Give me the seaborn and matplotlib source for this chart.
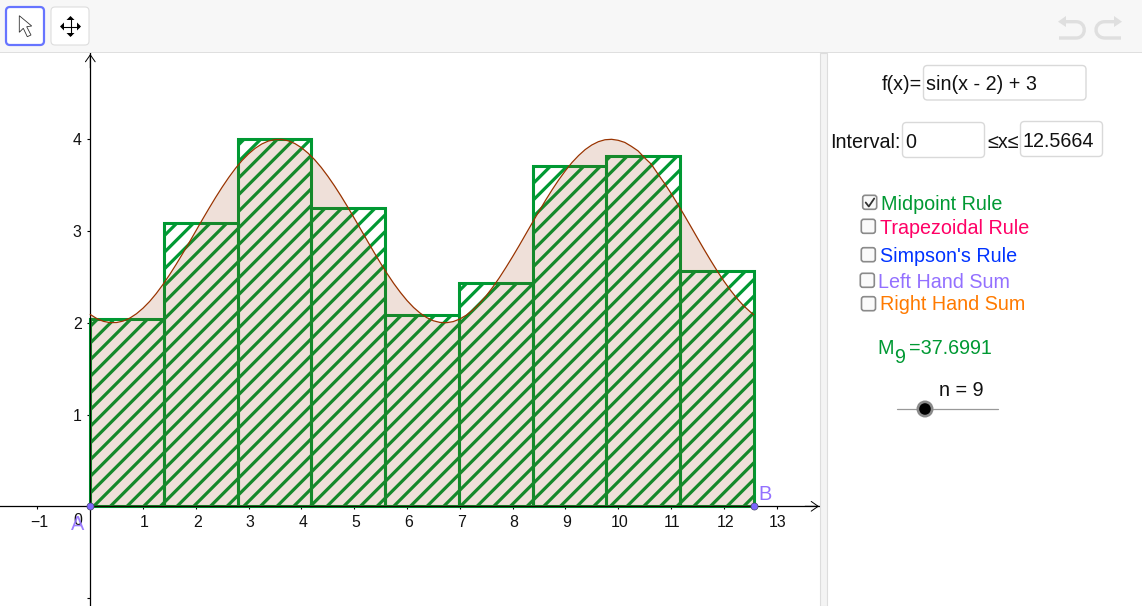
#!/usr/bin/env python3
import matplotlib
matplotlib.use("Agg")
import matplotlib.pyplot as plt
import matplotlib.transforms as mtransforms
import seaborn as sns
from matplotlib.patches import FancyBboxPatch, Rectangle, Polygon, Circle, PathPatch
from matplotlib.path import Path

# Midpoint rectangles
bar_mids = [0.698, 2.094, 3.491, 4.887, 6.283, 7.679, 9.076, 10.472, 11.868]
bar_heights = [2.04, 3.09, 4.00, 3.25, 2.09, 2.43, 3.71, 3.82, 2.57]

# Curve
curve_x = [0, 0.125, 0.25, 0.375, 0.5, 0.625, 0.75, 0.875, 1, 1.125, 1.25, 1.375, 1.5, 1.625, 1.75, 1.875,
           2, 2.125, 2.25, 2.375, 2.5, 2.625, 2.75, 2.875, 3, 3.125, 3.25, 3.375, 3.5, 3.625, 3.75, 3.875,
           4, 4.125, 4.25, 4.375, 4.5, 4.625, 4.75, 4.875, 5, 5.125, 5.25, 5.375, 5.5, 5.625, 5.75, 5.875,
           6, 6.125, 6.25, 6.375, 6.5, 6.625, 6.75, 6.875, 7, 7.125, 7.25, 7.375, 7.5, 7.625, 7.75, 7.875,
           8, 8.125, 8.25, 8.375, 8.5, 8.625, 8.75, 8.875, 9, 9.125, 9.25, 9.375, 9.5, 9.625, 9.75, 9.875,
           10, 10.125, 10.25, 10.375, 10.5, 10.625, 10.75, 10.875, 11, 11.125, 11.25, 11.375, 11.5, 11.625,
           11.75, 11.875, 12, 12.125, 12.25, 12.375, 12.5, 12.5664]
curve_y = [2.091, 2.046, 2.016, 2.002, 2.003, 2.019, 2.051, 2.098, 2.159, 2.232, 2.318, 2.415, 2.521, 2.634,
           2.753, 2.875, 3.0, 3.125, 3.247, 3.366, 3.479, 3.585, 3.682, 3.768, 3.841, 3.902, 3.949, 3.981,
           3.997, 3.999, 3.984, 3.954, 3.909, 3.850, 3.778, 3.694, 3.598, 3.494, 3.382, 3.264, 3.141, 3.017,
           2.892, 2.769, 2.649, 2.535, 2.428, 2.331, 2.243, 2.167, 2.105, 2.056, 2.022, 2.004, 2.001, 2.013,
           2.041, 2.084, 2.141, 2.212, 2.294, 2.389, 2.492, 2.604, 2.721, 2.842, 2.967, 3.092, 3.215, 3.336,
           3.451, 3.559, 3.657, 3.747, 3.823, 3.888, 3.938, 3.974, 3.995, 4.000, 3.989, 3.966, 3.923, 3.874,
           3.798, 3.730, 3.624, 3.522, 3.412, 3.295, 3.174, 3.050, 2.925, 2.801, 2.681, 2.565, 2.456, 2.356,
           2.265, 2.186, 2.120, 2.089]

point_x = [0, 12.5664]
point_y = [0, 0]

x_ticks = [-1, 1, 2, 3, 4, 5, 6, 7, 8, 9, 10, 11, 12, 13]
x_labels = ["\u22121", "1", "2", "3", "4", "5", "6", "7", "8", "9", "10", "11", "12", "13"]
y_ticks = [-1, 1, 2, 3, 4]
y_labels = ["", "1", "2", "3", "4"]

# Checkbox labels on the right
rule_names = ["Midpoint Rule", "Trapezoidal Rule", "Simpson's Rule", "Left Hand Sum", "Right Hand Sum"]
rule_colors = ["#009933", "#ff0066", "#0033ff", "#9370ff", "#ff7a00"]

GREEN = "#009933"
BROWN = "#993300"
VIOLET = "#7d66ff"

sns.set_style("white")
plt.rcParams["font.family"] = ["Liberation Sans", "DejaVu Sans"]
plt.rcParams["hatch.linewidth"] = 2.3

W, H = 1142, 606
fig = plt.figure(figsize=(W / 100, H / 100), dpi=100, facecolor="white")

# Graphics view, 820 px wide below the toolbar
ax = fig.add_axes([0, 0, 820 / W, (H - 53) / H])

sns.barplot(x=bar_mids, y=bar_heights, native_scale=True, width=1, fill=False, color=GREEN,
            saturation=1, linewidth=2.2, hatch="//", errorbar=None, ax=ax, zorder=1)
ax.fill_between(curve_x, 0, curve_y, color=BROWN, alpha=0.15, linewidth=0, zorder=3)
sns.lineplot(x=curve_x, y=curve_y, color=BROWN, linewidth=0.9, estimator=None, sort=False, ax=ax, zorder=4)
sns.scatterplot(x=point_x, y=point_y, color=VIOLET, s=26, edgecolor="#444466", linewidth=0.5,
                ax=ax, zorder=6, clip_on=False)

ax.set_xlim((0 - 90.2) / 52.8, (820 - 90.2) / 52.8)
ax.set_ylim((506.3 - 606) / 91.75, (506.3 - 53) / 91.75)
ax.set_xlabel("")
ax.set_ylabel("")
ax.spines["top"].set_visible(False)
ax.spines["right"].set_visible(False)
ax.spines["left"].set_position(("data", 0))
ax.spines["bottom"].set_position(("data", 0))
ax.spines["left"].set_linewidth(0.9)
ax.spines["bottom"].set_linewidth(0.9)
ax.spines["left"].set_color("black")
ax.spines["bottom"].set_color("black")
ax.set_xticks(x_ticks)
ax.set_xticklabels(x_labels, fontsize=11.4, color="#111111")
ax.set_yticks(y_ticks)
ax.set_yticklabels(y_labels, fontsize=11.4, color="#111111")
ax.tick_params(axis="both", bottom=True, left=True, length=2.2, width=0.8, color="black", pad=4)

# the x labels sit a little right of their ticks in the original
nudge = mtransforms.ScaledTranslation(1.5 / 100, 0, fig.dpi_scale_trans)
for lab in ax.get_xticklabels():
    lab.set_transform(lab.get_transform() + nudge)

# Everything else sits on a pixel overlay
ui = fig.add_axes([0, 0, 1, 1], facecolor="none")
ui.set_xlim(0, W)
ui.set_ylim(H, 0)
ui.axis("off")

# Axis arrow heads
head = dict(arrowstyle="->,head_length=0.5,head_width=0.35", color="black", lw=0.7, shrinkA=0, shrinkB=0)
ui.annotate("", xy=(819, 506.3), xytext=(805, 506.3), arrowprops=head)
ui.annotate("", xy=(90.3, 54), xytext=(90.3, 68), arrowprops=head)

ui.text(78, 520.5, "0", fontsize=11.4, color="#111111", ha="center", va="center")
ui.text(77.5, 524, "A", fontsize=14.4, color="#9370ff", ha="center", va="center", alpha=0.9)
ui.text(764.5, 495, "B", fontsize=14.4, color="#9370ff", ha="center", va="center")

# Toolbar
ui.add_patch(Rectangle((0, 0), W, 52, facecolor="#f7f7f7", edgecolor="none"))
ui.add_patch(Rectangle((0, 52), W, 1.2, facecolor="#dfdfdf", edgecolor="none"))


def rounded(x0, y0, x1, y1, face, edge, lw, r=4):
    ui.add_patch(FancyBboxPatch((x0 + r, y0 + r), x1 - x0 - 2 * r, y1 - y0 - 2 * r,
                                boxstyle=f"round,pad={r},rounding_size={r}",
                                facecolor=face, edgecolor=edge, linewidth=lw))


rounded(6, 7, 44, 45, "white", "#6674ff", 1.6)
rounded(51, 7, 89, 45, "white", "#dddddd", 0.8)

# Cursor icon
ui.add_patch(Polygon([(19.3, 15.7), (19.3, 32.3), (23.3, 28.3), (27.3, 36.7), (31, 35), (26.7, 26.7), (31.7, 26)],
                     closed=True, facecolor="white", edgecolor="#333333", linewidth=0.6))

# Move icon
mx, my = 70.5, 26.5
ui.plot([mx - 8, mx + 8], [my, my], color="black", lw=0.8)
ui.plot([mx, mx], [my - 8, my + 8], color="black", lw=0.8)
for dx, dy in [(1, 0), (-1, 0), (0, 1), (0, -1)]:
    tip = (mx + dx * 10.5, my + dy * 10.5)
    base = (mx + dx * 6.5, my + dy * 6.5)
    ui.add_patch(Polygon([tip, (base[0] + dy * 4, base[1] + dx * 4), (base[0] - dy * 4, base[1] - dx * 4)],
                         closed=True, facecolor="black", edgecolor="none"))

# Undo and redo icons
UNDO = "#dfdfdf"
codes = [Path.MOVETO, Path.LINETO, Path.CURVE4, Path.CURVE4, Path.CURVE4, Path.LINETO]
ui.add_patch(PathPatch(Path([(1064, 21.7), (1076, 21.7), (1087, 21.7), (1087, 38), (1076, 38), (1059, 38)], codes),
                       facecolor="none", edgecolor=UNDO, linewidth=2.4))
ui.add_patch(Polygon([(1058, 21.7), (1066, 16), (1066, 27)], closed=True, facecolor=UNDO, edgecolor="none"))
ui.add_patch(PathPatch(Path([(1115, 21.7), (1105, 21.7), (1093, 21.7), (1093, 38), (1105, 38), (1121, 38)], codes),
                       facecolor="none", edgecolor=UNDO, linewidth=2.4))
ui.add_patch(Polygon([(1122, 21.7), (1114, 16), (1114, 27)], closed=True, facecolor=UNDO, edgecolor="none"))

# Divider between the views
ui.add_patch(Rectangle((819.5, 53), 7, H - 53, facecolor="#f4f4f4", edgecolor="#dddddd", linewidth=0.8))

# Input fields
rounded(923.5, 65.5, 1086, 100, "white", "#d9d9d9", 1.0)
rounded(902.5, 122.5, 984.5, 157.5, "white", "#d9d9d9", 1.0)
rounded(1020.5, 121.5, 1102.5, 156.5, "white", "#d9d9d9", 1.0)

FS = 14.2
ui.text(921.5, 85, "f(x)=", fontsize=FS, color="#111111", ha="right", va="center")
ui.text(926, 85, "sin(x - 2) + 3", fontsize=FS, color="#111111", ha="left", va="center")
ui.text(830.5, 142.5, "Interval:", fontsize=FS, color="#111111", ha="left", va="center")
ui.text(905, 142, "0", fontsize=FS, color="#111111", ha="left", va="center")
ui.text(987, 142, "\u2264x\u2264", fontsize=FS, color="#111111", ha="left", va="center")
ui.text(1023, 141.5, "12.5664", fontsize=FS, color="#111111", ha="left", va="center")

# Checkboxes
box_x = [862.7, 861.3, 861.3, 860.3, 861.5]
box_y = [195.3, 219.3, 247.7, 273.3, 296.7]
text_x = [881, 879.5, 879.5, 878.5, 879.5]
text_y = [204.5, 228.5, 256.5, 282.5, 304.5]
for name, col, bx, by, tx, ty in zip(rule_names, rule_colors, box_x, box_y, text_x, text_y):
    rounded(bx, by, bx + 14, by + 14, "#fafafa", "#8a8a8a", 1.2, r=2.5)
    ui.text(tx, ty, name, fontsize=FS, color=col, ha="left", va="center")
ui.plot([865.7, 868.8, 874.2], [202.5, 206.5, 198.5], color="#333333", lw=1.3)

# Sum value and slider
ui.text(877, 348.5, "M", fontsize=FS, color=GREEN, ha="left", va="center")
ui.text(894, 357.5, "9", fontsize=FS, color=GREEN, ha="left", va="center")
ui.text(909.5, 348.5, "=37.6991", fontsize=FS, color=GREEN, ha="left", va="center")
ui.text(961, 390.5, "n = 9", fontsize=FS, color="#111111", ha="center", va="center")
ui.plot([897, 998], [409, 409], color="#999999", lw=0.9, zorder=1)
ui.add_patch(Circle((925, 409), 8.5, facecolor="#8a8a8a", edgecolor="none", zorder=3))
ui.add_patch(Circle((925, 409), 5.8, facecolor="black", edgecolor="none", zorder=4))

fig.savefig("out.png", dpi=100)
